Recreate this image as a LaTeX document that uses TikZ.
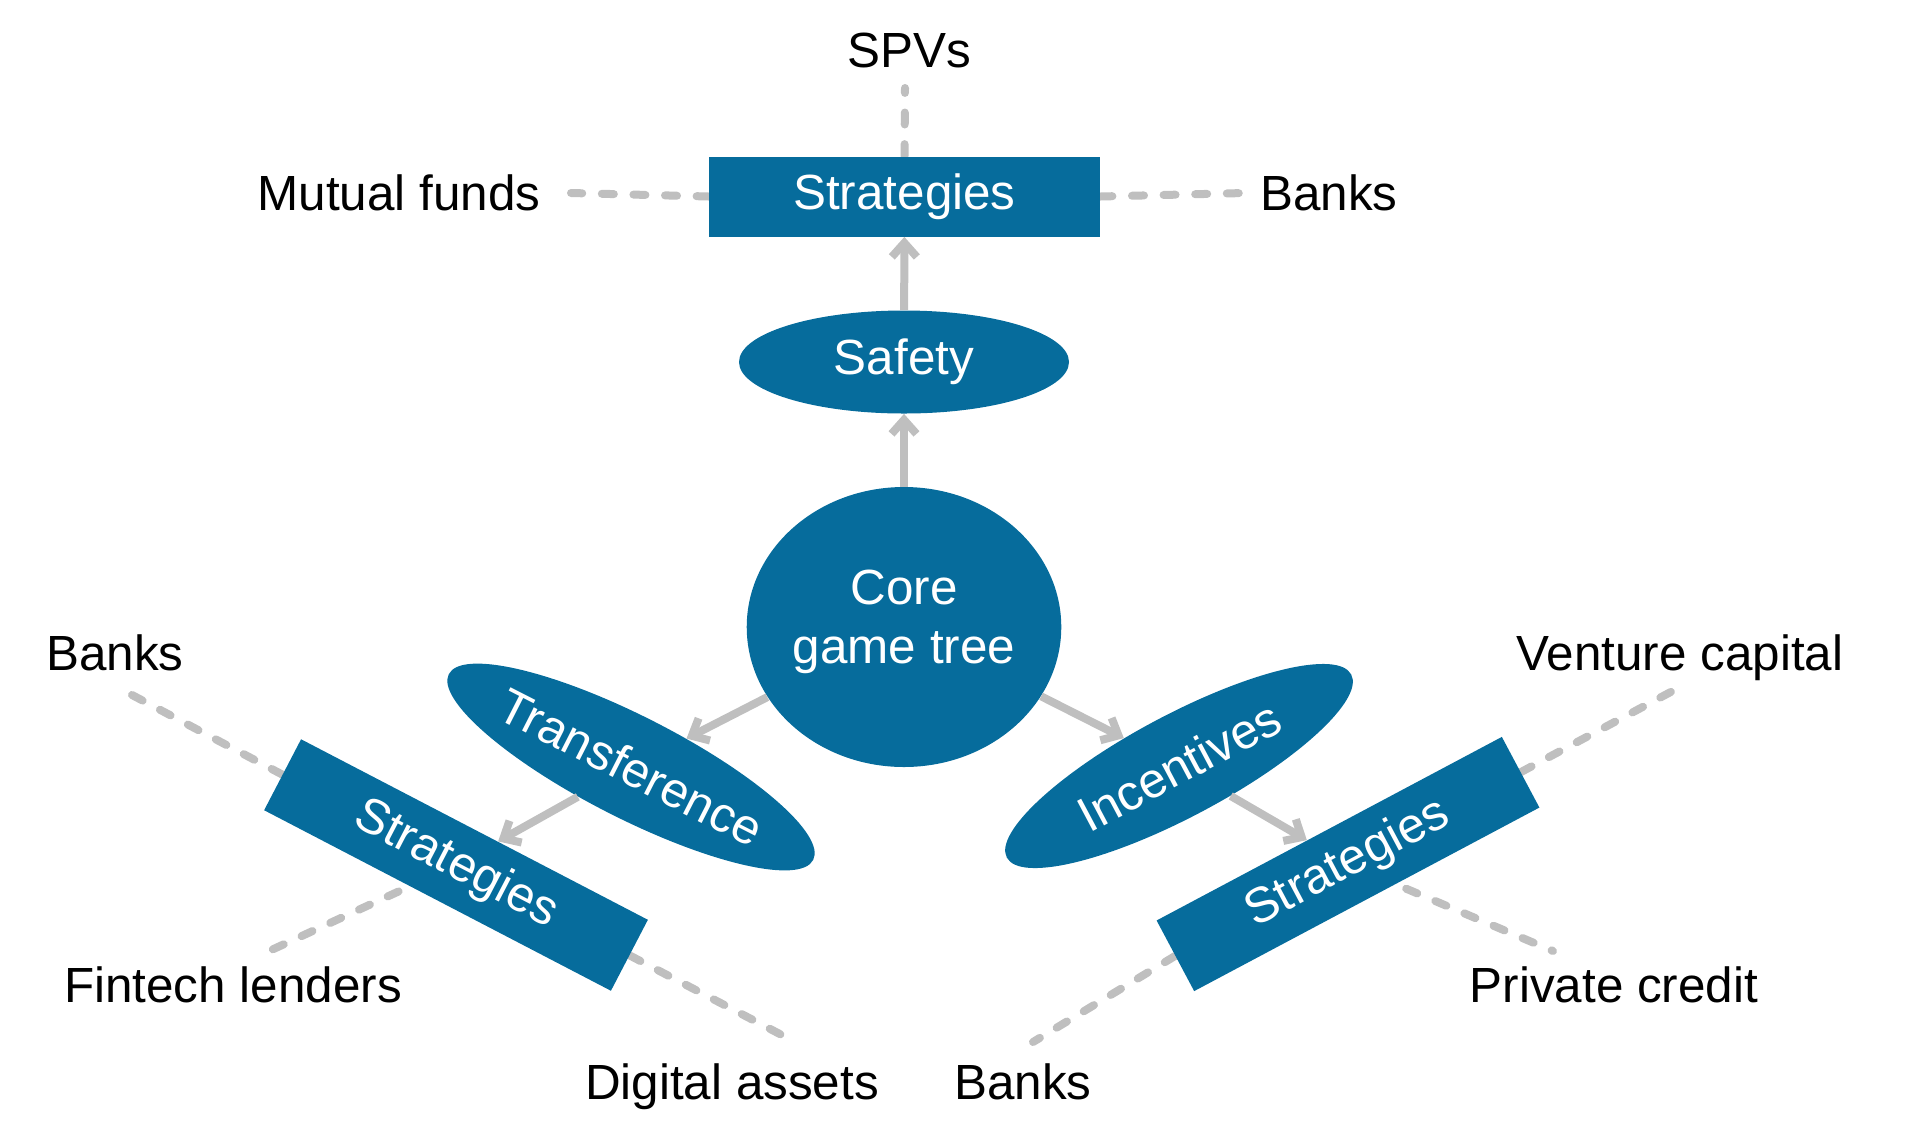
\documentclass[tikz,border=0pt]{standalone}
\usepackage{fontspec}
\setmainfont{Liberation Sans}
\usetikzlibrary{shapes.geometric,arrows.meta}
\definecolor{nodeblue}{RGB}{6,108,156}
\definecolor{linegray}{RGB}{191,191,191}
\pgfdeclarelayer{bg}
\pgfsetlayers{bg,main}
\begin{document}
\begin{tikzpicture}[x=0.5pt,y=-0.5pt,
  font=\fontsize{24.7}{29.5}\selectfont,
  blueell/.style={ellipse, fill=nodeblue, text=white, inner sep=0pt},
  stratbox/.style={rectangle, fill=nodeblue, text=white, minimum width=195.5pt, minimum height=40pt, inner sep=0pt},
  lbl/.style={text=black, anchor=base, inner sep=0pt},
  flow/.style={draw=linegray, line width=4pt, -{Straight Barb[sharp,length=7pt,width=12.5pt]}},
  dashlink/.style={draw=linegray, line width=4pt, line cap=round, dash pattern=on 6pt off 9.8pt}]

\useasboundingbox (0,0) rectangle (1917,1142);

% main nodes
\node[blueell, minimum width=154pt, minimum height=140pt, align=center] (core) at (904,627) {Core\\game tree\rule[-10pt]{0pt}{1pt}};
\node[blueell, minimum width=165pt, minimum height=51.5pt] (safety) at (904,362) {Safety};
\node[stratbox] (stop) at (904.5,196.5) {Strategies};
\node[blueell, minimum width=194pt, minimum height=51pt, rotate=-27] (trans) at (631,767) {Transference};
\node[blueell, minimum width=195pt, minimum height=51pt, rotate=28] (inc) at (1179,766) {Incentives};
\node[stratbox, rotate=-27.5] (sl) at (456,865) {Strategies};
\node[stratbox, rotate=28] (sr) at (1348,864) {Strategies};

% labels
\node[lbl] (spv) at (909,67) {SPVs};
\node[lbl] (mf) at (399,210) {Mutual funds};
\node[lbl] (bk1) at (1329,210) {Banks};
\node[lbl] (bk2) at (115,670) {Banks};
\node[lbl] (vc) at (1680,670) {Venture capital};
\node[lbl] (ft) at (233,1002) {Fintech lenders};
\node[lbl] (pc) at (1614,1002) {Private credit};
\node[lbl] (da) at (732,1099) {Digital assets};
\node[lbl] (bk3) at (1023,1099) {Banks};

% free ends of the dashed links
\coordinate (spvE) at (905,88);
\coordinate (mfE) at (571,193);
\coordinate (bk1E) at (1245,193);
\coordinate (bk2E) at (117,687);
\coordinate (daE) at (797,1043);
\coordinate (ftE) at (267,952);
\coordinate (vcE) at (1680,687);
\coordinate (bk3E) at (1033,1042);
\coordinate (pcE) at (1553,951);

% arrows
\draw[flow] (core) -- (safety);
\draw[flow] (safety) -- (stop);
\draw[flow] (core) -- (trans);
\draw[flow] (trans) -- (sl);
\draw[flow] (core) -- (inc);
\draw[flow] (inc) -- (sr);

% dashed links
\begin{pgfonlayer}{bg}
\draw[dashlink] (stop.north) -- (spvE);
\draw[dashlink] (stop.west) -- (mfE);
\draw[dashlink] (stop.east) -- (bk1E);
\draw[dashlink] (sl.west) -- (bk2E);
\draw[dashlink] (sl.east) -- (daE);
\draw[dashlink] (sl.center) -- (ftE);
\draw[dashlink] (sr.east) -- (vcE);
\draw[dashlink] (sr.west) -- (bk3E);
\draw[dashlink] (sr.center) -- (pcE);
\end{pgfonlayer}
\end{tikzpicture}
\end{document}
